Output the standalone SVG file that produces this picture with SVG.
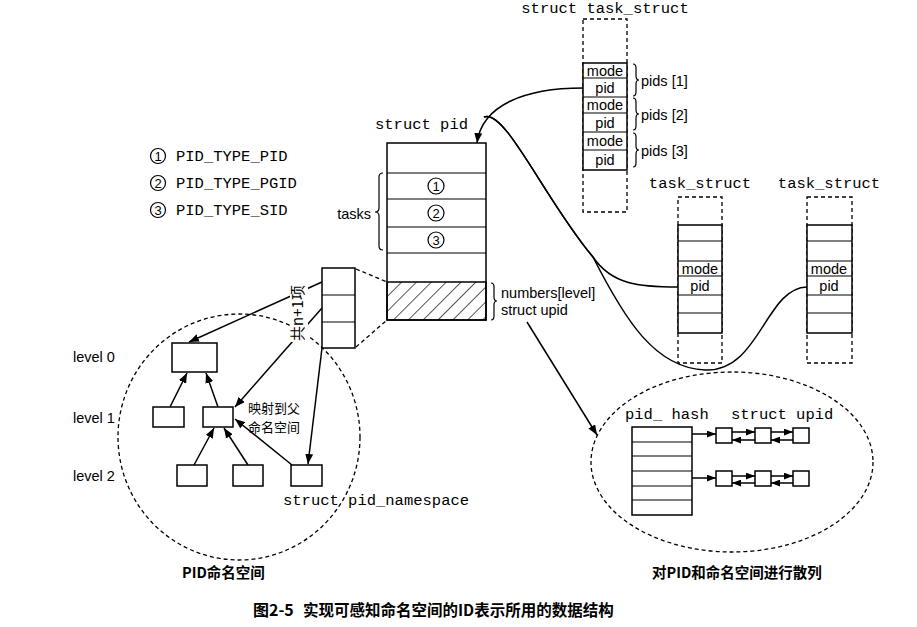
<svg xmlns="http://www.w3.org/2000/svg" width="917" height="627" viewBox="0 0 917 627">
<style>
.box{fill:#fff;stroke:#000;stroke-width:1.5}
.ln{fill:none;stroke:#000;stroke-width:1.5}
.thin{fill:none;stroke:#000;stroke-width:1.2}
.dash{fill:none;stroke:#000;stroke-width:1.3;stroke-dasharray:4 3}
.mono{font-family:"Liberation Mono","Courier New",monospace;font-size:15.5px}
.sans{font-family:"Liberation Sans",Arial,sans-serif;font-size:14.5px}
.num{font-family:"Liberation Sans",Arial,sans-serif;font-size:13px;text-anchor:middle}
.mid{text-anchor:middle}
.cjk{font-family:"Noto Sans CJK SC",sans-serif}
.cap{font-family:"Noto Sans CJK SC",sans-serif;font-weight:bold}
</style>
<defs>
<marker id="ah" viewBox="0 0 10 8" refX="10" refY="4" markerWidth="10" markerHeight="8" orient="auto" markerUnits="userSpaceOnUse"><path d="M0,0 L10,4 L0,8 z" fill="#000"/></marker>
<marker id="sa" viewBox="0 0 8 6" refX="8" refY="3" markerWidth="9" markerHeight="7" orient="auto" markerUnits="userSpaceOnUse"><path d="M0,0 L8,3 L0,6 z" fill="#000"/></marker>
<pattern id="hatch" width="10.5" height="10.5" patternUnits="userSpaceOnUse" patternTransform="rotate(45)"><line x1="0" y1="0" x2="0" y2="10.5" stroke="#000" stroke-width="1.3"/></pattern>
</defs>
<rect width="917" height="627" fill="#fff"/>

<!-- background ellipses -->
<ellipse cx="239" cy="437" rx="121" ry="123" class="dash"/>
<ellipse cx="732" cy="462" rx="141" ry="90" class="dash"/>

<!-- connectors -->
<g id="connectors">
<path class="ln" d="M583,88 C525,88 482,105 477,143" marker-end="url(#ah)"/>
<path class="ln" d="M484,117 C505,108 545,200 593,257 C612,285 640,287 678,287"/>
<path class="ln" d="M484,117 C505,108 545,200 593,257 C625,320 655,368 705,370 C760,372 765,288 807,287"/>
<line class="dash" x1="356" y1="269" x2="387" y2="282"/>
<line class="dash" x1="356" y1="347" x2="387" y2="320"/>
<line class="ln" x1="322" y1="282" x2="189" y2="342" marker-end="url(#ah)"/>
<line class="ln" x1="322" y1="308" x2="235" y2="407" marker-end="url(#ah)"/>
<line class="ln" x1="322" y1="348" x2="308" y2="464" marker-end="url(#ah)"/>
<line class="ln" x1="170" y1="407" x2="187" y2="373" marker-end="url(#ah)"/>
<line class="ln" x1="218" y1="407" x2="206" y2="373" marker-end="url(#ah)"/>
<line class="ln" x1="194" y1="465" x2="214" y2="428" marker-end="url(#ah)"/>
<line class="ln" x1="248" y1="465" x2="224" y2="428" marker-end="url(#ah)"/>
<line class="ln" x1="292" y1="465" x2="235" y2="419" marker-end="url(#ah)"/>
<line class="ln" x1="527" y1="322" x2="597" y2="435" marker-end="url(#ah)"/>
<line class="ln" x1="692" y1="434" x2="716" y2="434" marker-end="url(#sa)"/>
<line class="ln" x1="692" y1="478" x2="716" y2="478" marker-end="url(#sa)"/>
<line class="ln" x1="732" y1="432" x2="755" y2="432" marker-end="url(#sa)"/>
<line class="ln" x1="755" y1="440" x2="732" y2="440" marker-end="url(#sa)"/>
<line class="ln" x1="771" y1="432" x2="793" y2="432" marker-end="url(#sa)"/>
<line class="ln" x1="793" y1="440" x2="771" y2="440" marker-end="url(#sa)"/>
<line class="ln" x1="732" y1="476" x2="755" y2="476" marker-end="url(#sa)"/>
<line class="ln" x1="755" y1="483" x2="732" y2="483" marker-end="url(#sa)"/>
<line class="ln" x1="771" y1="476" x2="793" y2="476" marker-end="url(#sa)"/>
<line class="ln" x1="793" y1="483" x2="771" y2="483" marker-end="url(#sa)"/>
</g>

<!-- top task_struct -->
<g id="task_struct_main">
<text class="mono mid" x="605" y="13">struct task_struct</text>
<rect class="dash" x="583" y="19" width="44" height="193"/>
<rect class="box" x="583" y="63" width="44" height="107"/>
<path class="thin" d="M583,78H627M583,97H627M583,113H627M583,132H627M583,150H627"/>
<text class="sans mid" x="605" y="76">mode</text>
<text class="sans mid" x="605" y="93">pid</text>
<text class="sans mid" x="605" y="110">mode</text>
<text class="sans mid" x="605" y="128">pid</text>
<text class="sans mid" x="605" y="146">mode</text>
<text class="sans mid" x="605" y="165">pid</text>
<path class="thin" d="M633,64Q636,64 636,68L636,76Q636,80 639,80Q636,80 636,84L636,92Q636,96 633,96"/>
<path class="thin" d="M633,98Q636,98 636,102L636,110Q636,114 639,114Q636,114 636,118L636,126Q636,130 633,130"/>
<path class="thin" d="M633,133Q636,133 636,137L636,146Q636,150 639,150Q636,150 636,154L636,163Q636,167 633,167"/>
<text class="sans" x="641" y="86">pids [1]</text>
<text class="sans" x="641" y="120">pids [2]</text>
<text class="sans" x="641" y="156">pids [3]</text>
</g>

<!-- legend -->
<g id="legend">
<circle class="thin" cx="158" cy="156" r="7.5"/><text class="num" x="158" y="161">1</text>
<circle class="thin" cx="158" cy="183" r="7.5"/><text class="num" x="158" y="188">2</text>
<circle class="thin" cx="158" cy="210" r="7.5"/><text class="num" x="158" y="215">3</text>
<text class="mono" x="176" y="161">PID_TYPE_PID</text>
<text class="mono" x="176" y="188">PID_TYPE_PGID</text>
<text class="mono" x="176" y="215">PID_TYPE_SID</text>
</g>

<!-- struct pid -->
<g id="struct_pid">
<text class="mono" x="375" y="129">struct pid</text>
<rect class="box" x="387" y="143" width="99" height="177"/>
<rect x="387" y="282" width="99" height="38" fill="url(#hatch)" stroke="#000" stroke-width="1.5"/>
<path class="thin" d="M387,173H486M387,199H486M387,227H486M387,253H486"/>
<circle class="thin" cx="436" cy="186" r="8"/><text class="num" x="436" y="191">1</text>
<circle class="thin" cx="436" cy="213" r="8"/><text class="num" x="436" y="218">2</text>
<circle class="thin" cx="436" cy="240" r="8"/><text class="num" x="436" y="245">3</text>
<path class="thin" d="M383,173Q379,173 379,177L379,208Q379,212 375,212Q379,212 379,216L379,246Q379,250 383,250"/>
<text class="sans" x="371" y="219" text-anchor="end">tasks</text>
<path class="thin" d="M491,283Q494,283 494,287L494,297Q494,301 497,301Q494,301 494,305L494,316Q494,320 491,320"/>
<text class="sans" x="501" y="298">numbers[level]</text>
<text class="sans" x="501" y="315">struct upid</text>
</g>

<!-- numbers array -->
<g id="numbers_array">
<rect class="box" x="322" y="268" width="33" height="80"/>
<path class="thin" d="M322,295H355M322,322H355"/>
<rect x="290" y="284" width="18" height="58" fill="#fff"/>
<text class="cjk mid" font-size="15" transform="translate(298,313) rotate(-90)" y="5">共n+1项</text>
</g>

<!-- namespace tree -->
<g id="pid_namespace">
<rect class="box" x="172" y="343" width="45" height="29"/>
<rect class="box" x="153" y="407" width="31" height="20"/>
<rect class="box" x="203" y="407" width="30" height="20"/>
<rect class="box" x="177" y="465" width="30" height="21"/>
<rect class="box" x="233" y="465" width="30" height="21"/>
<rect class="box" x="291" y="465" width="31" height="21"/>
<text class="sans" x="73" y="362">level 0</text>
<text class="sans" x="73" y="423">level 1</text>
<text class="sans" x="73" y="481">level 2</text>
<text class="cjk" font-size="13" x="248" y="413">映射到父</text>
<text class="cjk" font-size="13" x="248" y="432">命名空间</text>
<text class="mono" x="283" y="505">struct pid_namespace</text>
<text class="cap" font-size="14.5" x="182" y="578">PID命名空间</text>
</g>

<!-- task_struct 2 -->
<g id="task_struct_2">
<text class="mono mid" x="700" y="188">task_struct</text>
<rect class="dash" x="678" y="197" width="44" height="166"/>
<rect class="box" x="678" y="225" width="44" height="108"/>
<path class="thin" d="M678,241H722M678,261H722M678,276H722M678,295H722M678,313H722"/>
<text class="sans mid" x="700" y="274">mode</text>
<text class="sans mid" x="700" y="291">pid</text>
</g>

<!-- task_struct 3 -->
<g id="task_struct_3">
<text class="mono mid" x="829" y="188">task_struct</text>
<rect class="dash" x="807" y="197" width="45" height="166"/>
<rect class="box" x="807" y="225" width="45" height="108"/>
<path class="thin" d="M807,241H852M807,261H852M807,276H852M807,295H852M807,313H852"/>
<text class="sans mid" x="829" y="274">mode</text>
<text class="sans mid" x="829" y="291">pid</text>
</g>

<!-- pid hash -->
<g id="pid_hash">
<text class="mono" x="625" y="419">pid_ hash</text>
<text class="mono" x="731" y="419">struct upid</text>
<rect class="box" x="632" y="427" width="60" height="88"/>
<path class="thin" d="M632,442H692M632,456H692M632,471H692M632,486H692M632,500H692"/>
<rect class="box" x="716" y="428" width="16" height="15"/>
<rect class="box" x="755" y="428" width="16" height="15"/>
<rect class="box" x="793" y="428" width="16" height="15"/>
<rect class="box" x="716" y="471" width="16" height="15"/>
<rect class="box" x="755" y="471" width="16" height="15"/>
<rect class="box" x="793" y="471" width="16" height="15"/>
<text class="cap" font-size="14.5" x="652" y="578">对PID和命名空间进行散列</text>
</g>

<g id="caption">
<text class="cap" font-size="16" x="253" y="616">图2-5</text>
<text class="cap" font-size="15.5" x="303" y="616">实现可感知命名空间的ID表示所用的数据结构</text>
</g>
</svg>
